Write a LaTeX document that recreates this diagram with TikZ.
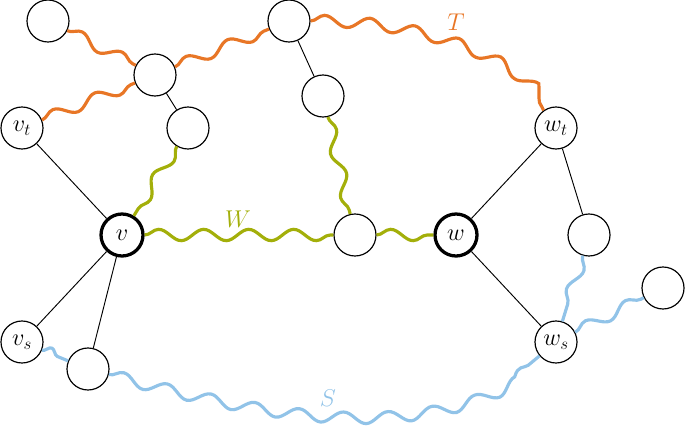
\documentclass[tikz,border=0pt]{standalone}
\usetikzlibrary{decorations.pathmorphing}
\definecolor{tor}{RGB}{232,118,38}
\definecolor{wgr}{RGB}{163,175,10}
\definecolor{sbl}{RGB}{145,195,232}
\begin{document}
\begin{tikzpicture}[x=0.03cm,y=-0.03cm,
  vtx/.style={circle,draw,line width=1pt,minimum size=1.26cm,inner sep=0pt,font=\fontsize{20}{24}\selectfont},
  big/.style={vtx,line width=2.8pt},
  edge/.style={line width=0.8pt},
  wig/.style={line width=2.7pt,decorate,decoration={snake,segment length=1.35cm,amplitude=0.17cm}},
  lab/.style={font=\fontsize{20}{24}\selectfont}]
\useasboundingbox (0,0) rectangle (685,427);
\node[vtx] (A) at (48,21) {};
\node[vtx] (B) at (155,75) {};
\node[vtx] (C) at (188,128) {};
\node[vtx] (vt) at (22,128) {$v_t$};
\node[big] (v) at (122,235) {$v$};
\node[vtx] (vs) at (22,342) {$v_s$};
\node[vtx] (D) at (88,369) {};
\node[vtx] (E) at (289,21) {};
\node[vtx] (F) at (323,96) {};
\node[vtx] (G) at (355,235) {};
\node[big] (w) at (456,235) {$w$};
\node[vtx] (wt) at (556,128) {$w_t$};
\node[vtx] (H) at (589,235) {};
\node[vtx] (ws) at (556,342) {$w_s$};
\node[vtx] (I) at (663,288) {};
% plain edges
\draw[edge] (vt) -- (v);
\draw[edge] (B) -- (C);
\draw[edge] (v) -- (vs);
\draw[edge] (v) -- (D);
\draw[edge] (E) -- (F);
\draw[edge] (wt) -- (w);
\draw[edge] (wt) -- (H);
\draw[edge] (w) -- (ws);
% T
\draw[wig,tor] (A) -- (B);
\draw[wig,tor] (vt) -- (B);
\draw[wig,tor] (B) -- (E);
\draw[wig,tor] (E) to[out=0,in=125,looseness=0.8] (wt);
% W
\draw[wig,wgr] (C) -- (v);
\draw[wig,wgr] (v) -- (G);
\draw[wig,wgr] (F) -- (G);
\draw[wig,wgr] (G) -- (w);
% S
\draw[wig,sbl,decoration={segment length=0.8cm}] (vs) -- (D);
\draw[wig,sbl] (D) to[out=-15,in=-140,looseness=0.87] (ws);
\draw[wig,sbl] (H) -- (ws);
\draw[wig,sbl] (ws) -- (I);
% labels
\node[lab,text=tor] (Tl) at (456,22) {$T$};
\node[lab,text=wgr] (Wl) at (238,219) {$W$};
\node[lab,text=sbl] (Sl) at (328,398) {$S$};
\end{tikzpicture}
\end{document}
